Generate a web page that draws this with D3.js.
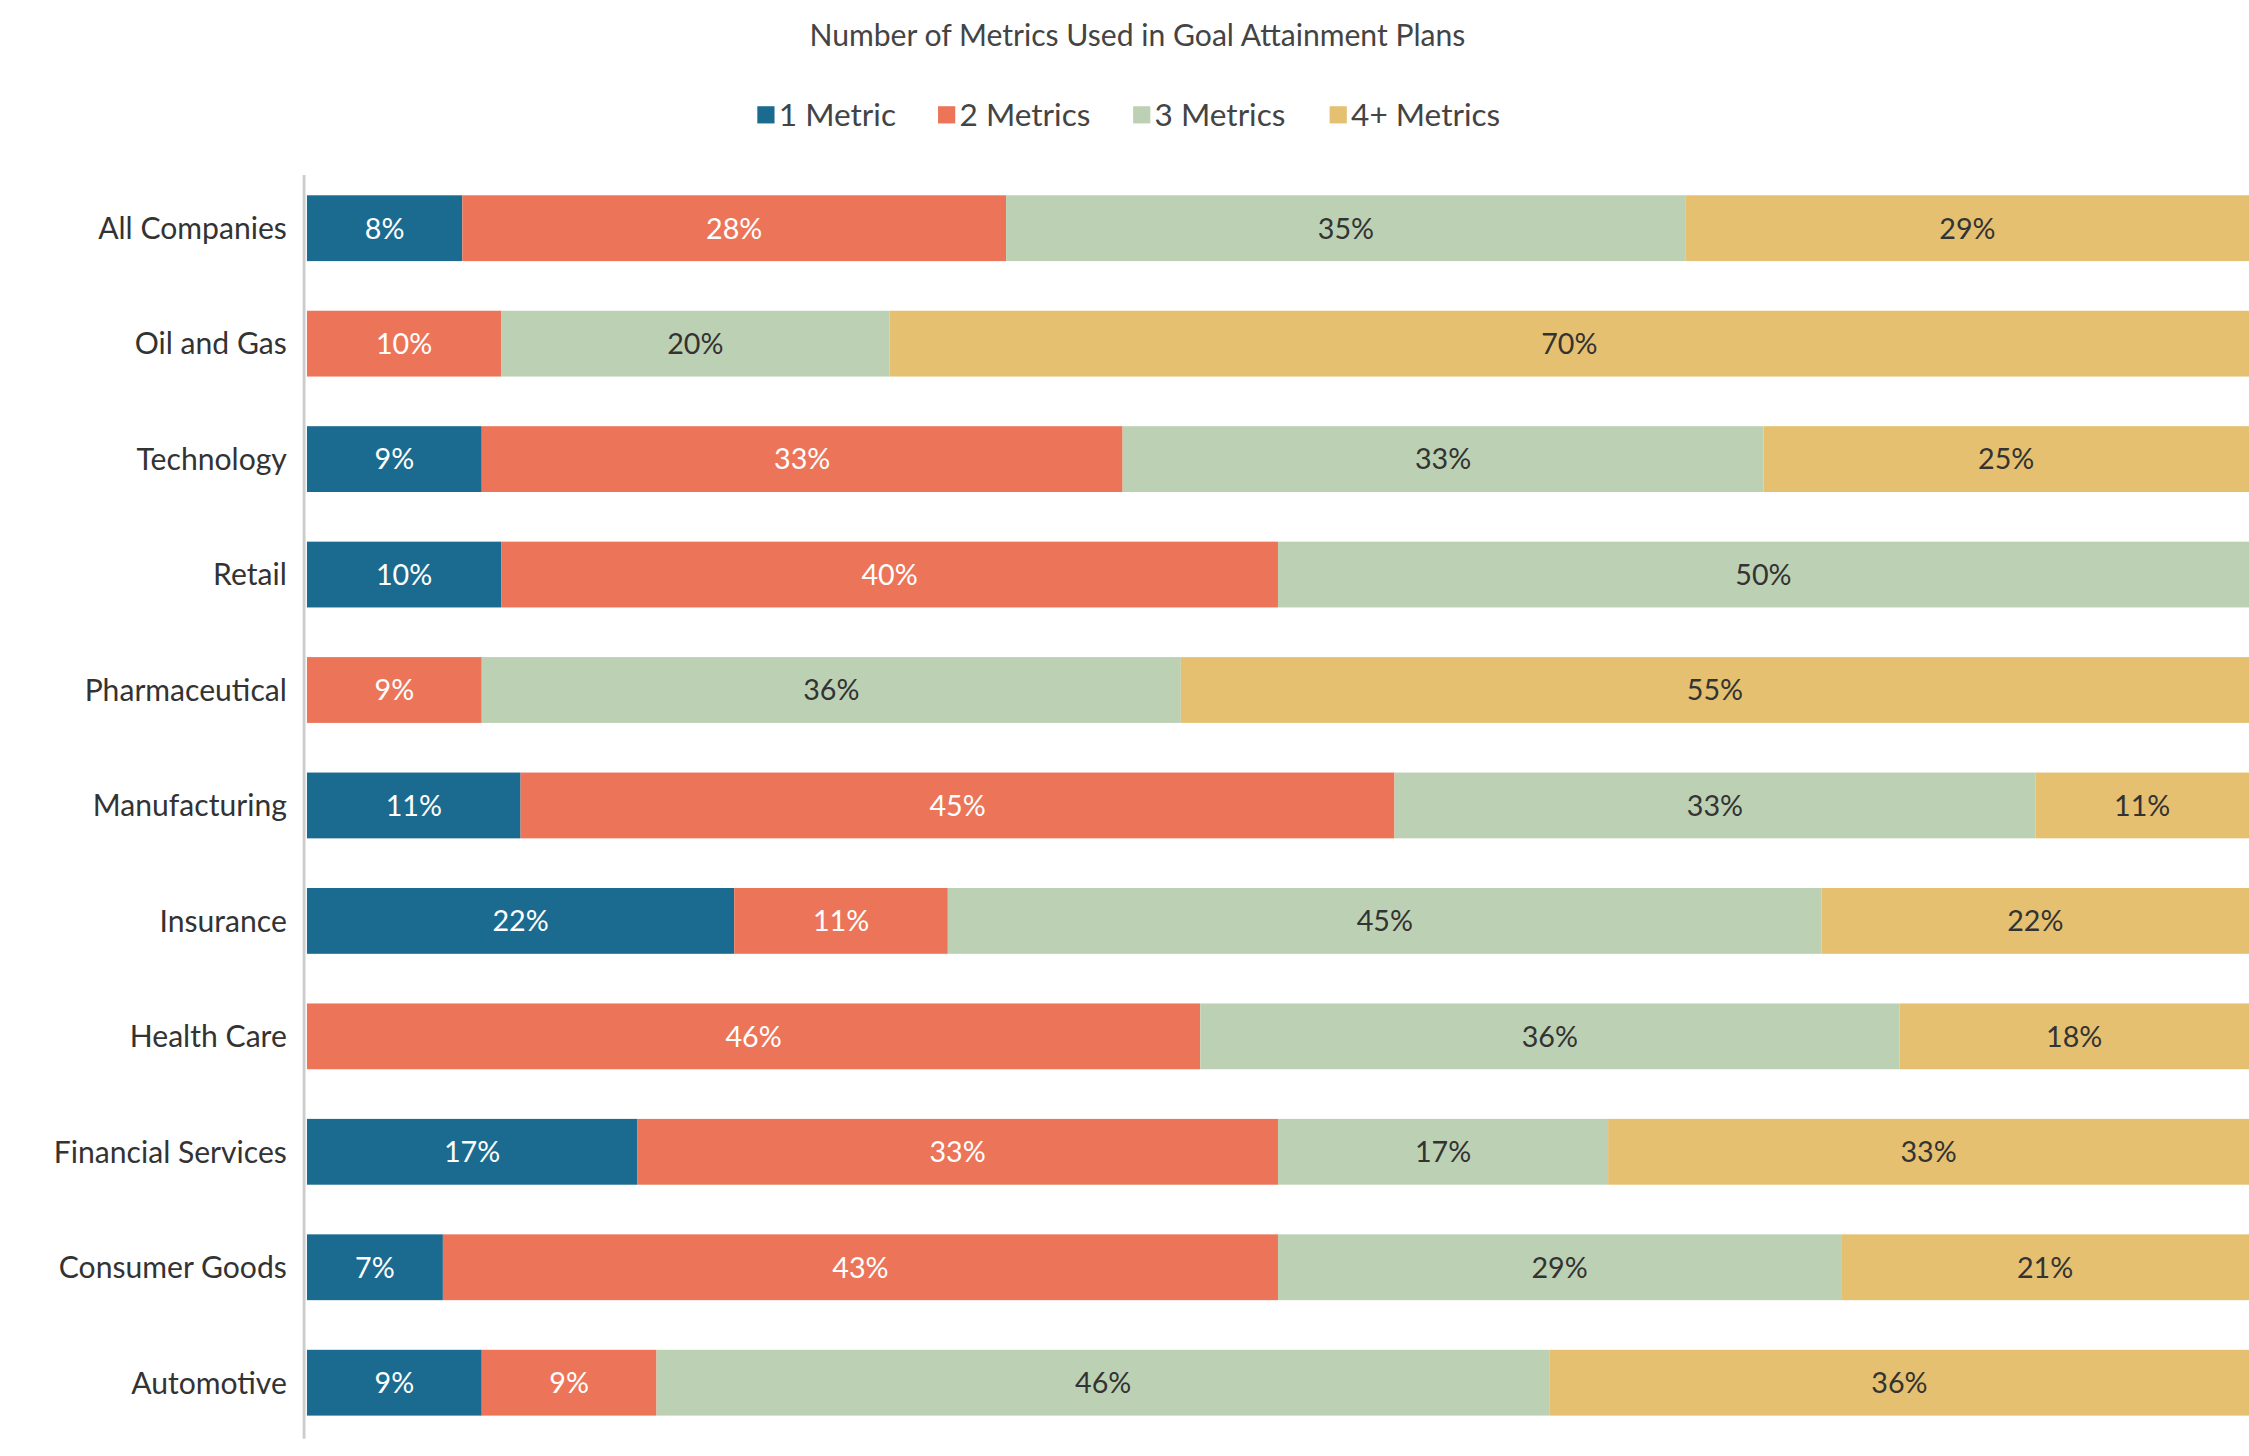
<!DOCTYPE html>
<html>
<head>
<meta charset="utf-8">
<script src="https://cdn.jsdelivr.net/npm/d3@7"></script>
<style>
  body { margin: 0; background: #fff; }
  svg { display: block; font-family: Lato, "Open Sans", sans-serif; }
</style>
</head>
<body>
<svg id="chart" width="2249" height="1456" viewBox="0 0 1568 1015"></svg>
<script>
const categories = ["All Companies", "Oil and Gas", "Technology", "Retail", "Pharmaceutical",
  "Manufacturing", "Insurance", "Health Care", "Financial Services", "Consumer Goods", "Automotive"];
const seriesNames = ["1 Metric", "2 Metrics", "3 Metrics", "4+ Metrics"];
const oneMetric  = [8, 0, 9, 10, 0, 11, 22, 0, 17, 7, 9];
const twoMetrics = [28, 10, 33, 40, 9, 45, 11, 46, 33, 43, 9];
const threeMetrics = [35, 20, 33, 50, 36, 33, 45, 36, 17, 29, 46];
const fourMetrics = [29, 70, 25, 0, 55, 11, 22, 18, 33, 21, 36];
const colors = ["#1b6b90", "#ec7559", "#bcd1b4", "#e5c070"];
const textColors = ["#fff", "#fff", "#333", "#333"];

const rows = categories.map((c, i) => ({
  cat: c, "1 Metric": oneMetric[i], "2 Metrics": twoMetrics[i],
  "3 Metrics": threeMetrics[i], "4+ Metrics": fourMetrics[i]
}));
const stacked = d3.stack().keys(seriesNames)(rows);

const svg = d3.select("#chart");
const x = d3.scaleLinear().domain([0, 100]).range([214, 1568]);
const y = d3.scaleBand().domain(categories).range([120, 1003]).paddingInner(0.43).paddingOuter(0.2);

svg.append("text").attr("x", 793).attr("y", 32).attr("text-anchor", "middle")
  .attr("font-size", 21).attr("fill", "#444").text("Number of Metrics Used in Goal Attainment Plans");

// legend
const legendX = [528, 654, 790, 927];
seriesNames.forEach((s, i) => {
  const g = svg.append("g").attr("transform", `translate(${legendX[i]},80)`);
  g.append("rect").attr("x", 0).attr("y", -6).attr("width", 12).attr("height", 12).attr("fill", colors[i]);
  g.append("text").attr("x", 15).attr("y", 8).attr("font-size", 22).attr("fill", "#444").text(s);
});

stacked.forEach((layer, li) => {
  const g = svg.append("g");
  layer.forEach(d => {
    if (d[1] - d[0] <= 0) return;
    const cat = d.data.cat;
    g.append("rect").attr("x", x(d[0])).attr("y", y(cat))
      .attr("width", x(d[1]) - x(d[0])).attr("height", y.bandwidth()).attr("fill", colors[li]);
    g.append("text").attr("x", (x(d[0]) + x(d[1])) / 2).attr("y", y(cat) + y.bandwidth() / 2)
      .attr("dy", "0.36em").attr("text-anchor", "middle").attr("font-size", 20)
      .attr("fill", textColors[li]).text((d[1] - d[0]) + "%");
  });
});

// category labels
svg.append("g").selectAll("text").data(categories).join("text")
  .attr("x", 200).attr("y", d => y(d) + y.bandwidth() / 2).attr("dy", "0.36em")
  .attr("text-anchor", "end").attr("font-size", 21).attr("fill", "#333").text(d => d);

svg.append("line").attr("x1", 212).attr("x2", 212).attr("y1", 122).attr("y2", 1003)
  .attr("stroke", "#ccc").attr("stroke-width", 2);
</script>
</body>
</html>
